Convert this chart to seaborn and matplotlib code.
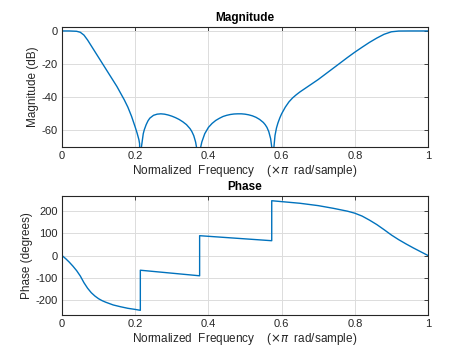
import numpy as np
import pandas as pd
import matplotlib
matplotlib.use("Agg")
import matplotlib.pyplot as plt
import seaborn as sns

# magnitude response (normalized freq, dB)
mag_freq = [0.0, 0.02, 0.04, 0.05, 0.06, 0.07, 0.08, 0.09, 0.10, 0.11, 0.12,
            0.13, 0.14, 0.15, 0.16, 0.17, 0.18, 0.19, 0.20, 0.205, 0.21, 0.212, 0.2145,
            0.217, 0.222, 0.225, 0.23, 0.235, 0.24, 0.25, 0.26, 0.27, 0.28, 0.29, 0.30,
            0.31, 0.32, 0.33, 0.34, 0.35, 0.355, 0.36, 0.365, 0.369, 0.373,
            0.377, 0.382, 0.39, 0.40, 0.41, 0.42, 0.43, 0.44, 0.45, 0.46, 0.47, 0.48,
            0.49, 0.50, 0.51, 0.52, 0.53, 0.54, 0.55, 0.555, 0.56, 0.565, 0.57, 0.573,
            0.576, 0.579, 0.582, 0.586, 0.59, 0.595, 0.60, 0.61, 0.62, 0.63, 0.64, 0.65,
            0.70, 0.75, 0.78, 0.80, 0.82, 0.84, 0.86, 0.88, 0.90, 0.92, 0.95, 1.0]
mag_db = [0.0, 0.0, -0.2, -0.8, -2.5, -5.5, -9.0, -12.5, -16.0, -19.5, -23.0,
          -26.5, -30.0, -33.5, -37.5, -41.5, -46.0, -51.5, -58.0, -61.5, -65.5, -68.0, -110.0,
          -70.0, -62.0, -59.5, -56.5, -54.2, -52.6, -50.9, -50.2, -50.0, -50.2, -50.7, -51.4,
          -52.3, -53.4, -54.8, -56.5, -59.0, -60.8, -63.2, -67.0, -72.0, -110.0,
          -72.0, -67.0, -62.0, -58.2, -55.8, -54.0, -52.7, -51.6, -50.9, -50.4, -50.1, -50.0,
          -50.0, -50.2, -50.6, -51.2, -52.1, -53.4, -55.2, -56.5, -58.2, -60.8, -65.0, -70.0,
          -110.0, -70.0, -63.0, -58.5, -55.5, -52.5, -50.0, -46.0, -42.8, -40.4, -38.5, -36.8,
          -29.3, -21.0, -16.0, -12.8, -9.8, -6.9, -4.3, -2.0, -0.5, -0.05, 0.0, 0.0]

# phase response (degrees), repeated x where the phase jumps
phase_freq = [0.0, 0.01, 0.02, 0.03, 0.04, 0.05, 0.06, 0.07, 0.08, 0.09, 0.10,
              0.11, 0.12, 0.13, 0.14, 0.16, 0.18, 0.20, 0.214, 0.214, 0.376, 0.376,
              0.573, 0.573, 0.60, 0.65, 0.70, 0.741, 0.78, 0.80, 0.82, 0.84, 0.86,
              0.88, 0.90, 0.92, 0.94, 0.96, 0.98, 1.0]
phase_deg = [0.0, -14.0, -30.0, -48.0, -68.0, -92.0, -122.0, -147.0, -167.0, -182.0, -194.0,
             -203.0, -210.0, -216.0, -222.0, -230.0, -237.0, -242.0, -246.0, -66.0, -91.0, 89.0,
             66.5, 246.0, 242.0, 234.6, 224.0, 212.0, 199.0, 190.0, 177.0, 159.0, 139.0,
             116.0, 92.0, 71.0, 52.0, 34.0, 17.0, 0.0]

x_ticks = [0, 0.2, 0.4, 0.6, 0.8, 1]
x_labels = ["0", "0.2", "0.4", "0.6", "0.8", "1"]
mag_ticks = [-60, -40, -20, 0]
phase_ticks = [-200, -100, 0, 100, 200]

sns.set_theme(style="whitegrid")
plt.rcParams["font.family"] = ["Liberation Sans", "DejaVu Sans"]
plt.rcParams["axes.unicode_minus"] = False

LINE = "#0072BD"
AX = "#262626"
xlab = r"Normalized  Frequency    ($\times\pi$  rad/sample)"

fig = plt.figure(figsize=(4.74, 3.55), dpi=100)
fig.patch.set_facecolor("white")
ax1 = fig.add_axes([0.1308, 0.586, 0.7722, 0.338])
ax2 = fig.add_axes([0.1308, 0.1127, 0.7722, 0.3363])

magData = pd.DataFrame({"f": mag_freq, "db": mag_db})
phaseData = pd.DataFrame({"f": phase_freq, "deg": phase_deg})

sns.lineplot(data=magData, x="f", y="db", ax=ax1, color=LINE, linewidth=1.0,
             estimator=None, sort=False)
sns.lineplot(data=phaseData, x="f", y="deg", ax=ax2, color=LINE, linewidth=1.0,
             estimator=None, sort=False)

def styleAxes(ax, title, ylabel, yticks, ylim):
    ax.set_xlim(0, 1)
    ax.set_ylim(*ylim)
    ax.set_xticks(x_ticks)
    ax.set_xticklabels(x_labels)
    ax.set_yticks(yticks)
    ax.set_title(title, fontsize=8.5, fontweight="bold", color="black", pad=4)
    ax.set_xlabel(xlab, fontsize=8.5, color=AX, labelpad=1)
    ax.set_ylabel(ylabel, fontsize=8.5, color=AX, labelpad=2)
    ax.grid(True, color="#dcdcdc", linewidth=0.7)
    ax.set_facecolor("white")
    for sp in ax.spines.values():
        sp.set_color(AX)
        sp.set_linewidth(0.8)
    ax.tick_params(direction="in", length=3, width=0.6, colors=AX, labelsize=8,
                   top=True, right=True, pad=3)

styleAxes(ax1, "Magnitude", "Magnitude (dB)", mag_ticks, (-70, 2.4))
styleAxes(ax2, "Phase", "Phase (degrees)", phase_ticks, (-267, 269))

fig.savefig("out.png", dpi=100)
